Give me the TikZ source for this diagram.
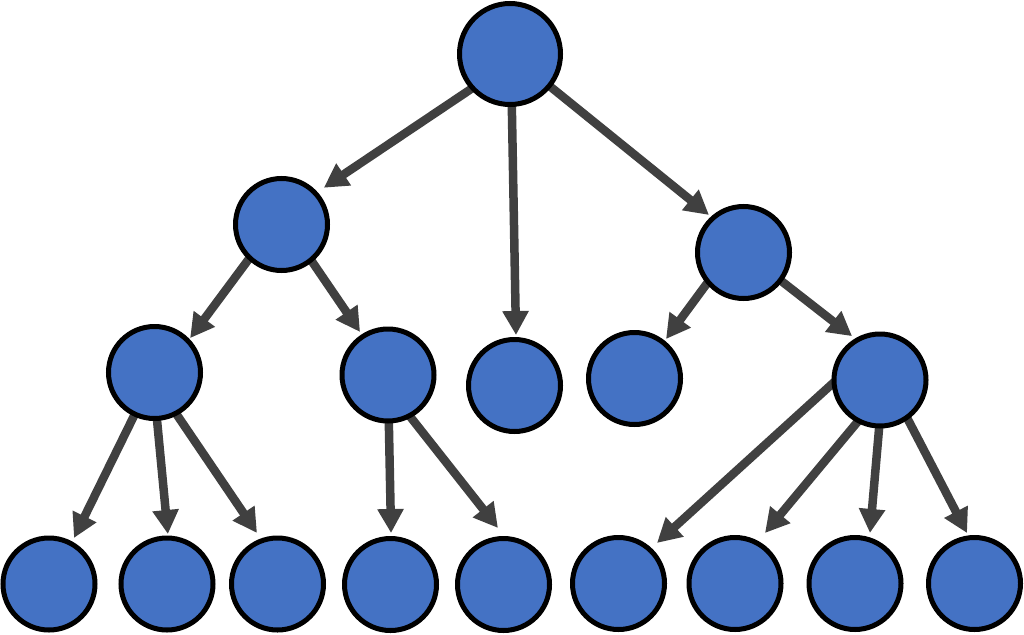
\documentclass[tikz,border=0pt]{standalone}
\usetikzlibrary{arrows.meta,calc,backgrounds}
\definecolor{nodeblue}{HTML}{4472C4}
\definecolor{arrowgray}{HTML}{404040}
\tikzset{
  treenode/.style={circle,draw=black,line width=5pt,fill=nodeblue,inner sep=0pt,minimum size=92pt},
  rootnode/.style={treenode,minimum size=101pt},
  arr/.style={draw=arrowgray,line width=8.5pt,shorten <=-12pt,-{Triangle[length=24pt,width=25pt]}}
}
\begin{document}
\begin{tikzpicture}[x=1pt,y=-1pt]
\useasboundingbox (0,0) rectangle (1024,634);
\node[rootnode] (root) at (510,54) {};
\node[treenode] (L1a) at (281.5,224.5) {};
\node[treenode] (L1b) at (743.5,252.5) {};
\node[treenode] (L2a) at (154.5,372.5) {};
\node[treenode] (L2b) at (388,375) {};
\node[treenode] (L2c) at (514.5,385.5) {};
\node[treenode] (L2d) at (634.5,378.5) {};
\node[treenode] (L2e) at (880,380) {};
\node[treenode] (B1) at (49,584) {};
\node[treenode] (B2) at (167,584) {};
\node[treenode] (B3) at (277.5,584) {};
\node[treenode] (B4) at (390.5,584.5) {};
\node[treenode] (B5) at (503.5,584.5) {};
\node[treenode] (B6) at (618.5,583.5) {};
\node[treenode] (B7) at (735,583.5) {};
\node[treenode] (B8) at (855,583.5) {};
\node[treenode] (B9) at (974.5,583.5) {};
\begin{scope}[on background layer]
\draw[arr] ($(root)+(222:52pt)$) -- ($(L1a)+(41:56pt)$);
\draw[arr] ($(root)+(272:52pt)$) -- ($(L2c)+(88.3:50.5pt)$);
\draw[arr] ($(root)+(321:52pt)$) -- ($(L1b)+(132.6:51pt)$);
\draw[arr] ($(L1a)+(226.5:47pt)$) -- ($(L2a)+(44:49.5pt)$);
\draw[arr] ($(L1a)+(309.6:47pt)$) -- ($(L2b)+(123:51.3pt)$);
\draw[arr] ($(L1b)+(220:47pt)$) -- ($(L2d)+(51.4:50.5pt)$);
\draw[arr] ($(L1b)+(323:47pt)$) -- ($(L2e)+(122.5:52pt)$);
\draw[arr] ($(L2a)+(244.7:47pt)$) -- ($(B1)+(61.5:52.4pt)$);
\draw[arr] ($(L2a)+(273:47pt)$) -- ($(B2)+(89:50pt)$);
\draw[arr] ($(L2a)+(297.8:47pt)$) -- ($(B3)+(111.9:55pt)$);
\draw[arr] ($(L2b)+(271:47pt)$) -- ($(B4)+(89.4:51.5pt)$);
\draw[arr] ($(L2b)+(298:47pt)$) -- ($(B5)+(95.6:56.8pt)$);
\draw[arr] ($(L2e)+(183.7:47pt)$) -- ($(B6)+(46.5:55.9pt)$);
\draw[arr] ($(L2e)+(241.9:47pt)$) -- ($(B7)+(59.3:58.7pt)$);
\draw[arr] ($(L2e)+(269:47pt)$) -- ($(B8)+(73.5:52.7pt)$);
\draw[arr] ($(L2e)+(305.5:47pt)$) -- ($(B9)+(98.4:51pt)$);
\end{scope}
\end{tikzpicture}
\end{document}
